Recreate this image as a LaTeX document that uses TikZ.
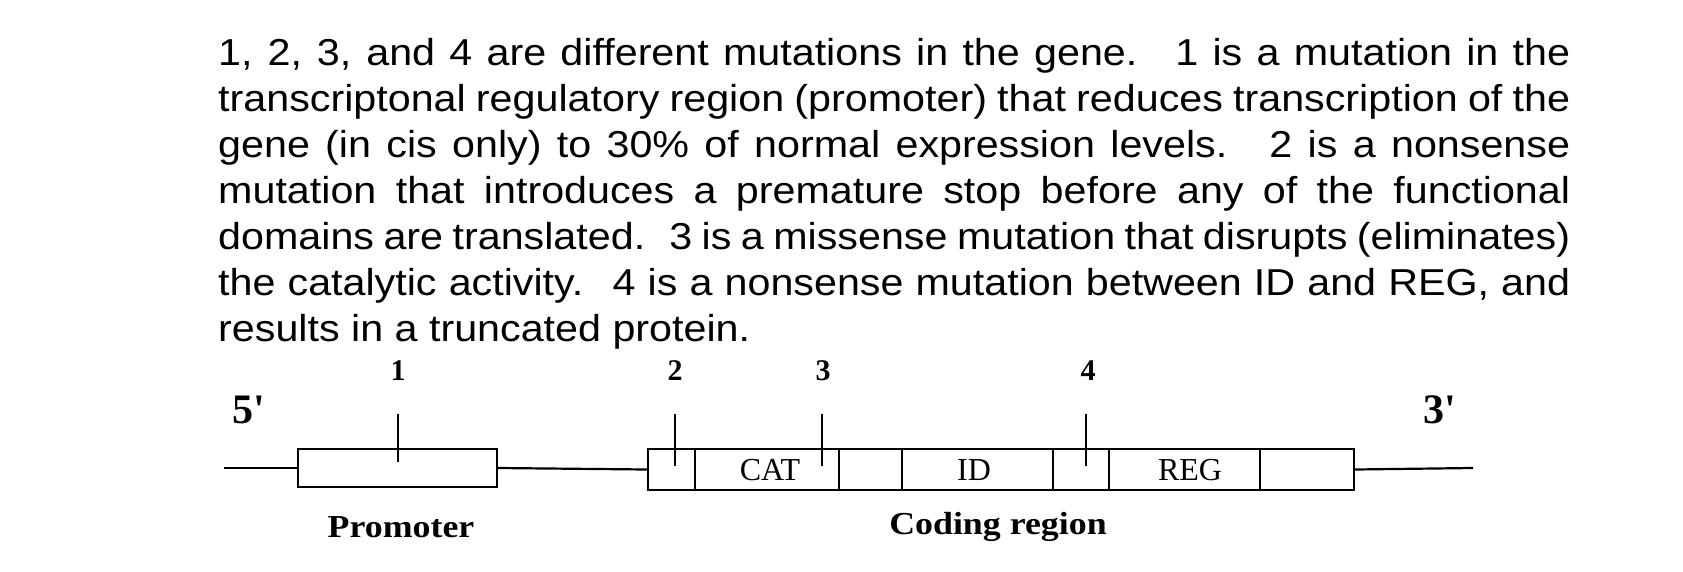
\documentclass[tikz,border=0pt]{standalone}
\usepackage{fontspec}
\setmainfont{Liberation Sans}[FakeStretch=1.1]
\newfontfamily\dfont{Liberation Serif}
\newfontfamily\wfont{Liberation Serif}[FakeStretch=1.12]
\begin{document}
\begin{tikzpicture}[x=1pt,y=-1pt,
  ln/.style={line width=2.2pt},
  bx/.style={draw,line width=1.8pt},
  tk/.style={line width=1.6pt},
  num/.style={font=\dfont\bfseries\fontsize{30}{30}\selectfont},
  dom/.style={font=\dfont\fontsize{32}{32}\selectfont},
  lab/.style={font=\wfont\bfseries\fontsize{32}{32}\selectfont}]
\useasboundingbox (0,0) rectangle (1683,571);
\node[anchor=north west,inner sep=0,text width=1352pt,align=justify,
  font=\fontsize{37.5}{46}\selectfont] (txt) at (218,38)
 {1, 2, 3, and 4 are different mutations in the gene.~ 1 is a mutation in the\linebreak
 transcriptonal regulatory region (promoter) that reduces transcription of the\linebreak
 gene (in cis only) to 30\% of normal expression levels.~ 2 is a nonsense\linebreak
 mutation that introduces a premature stop before any of the functional\linebreak
 domains are translated.~ 3 is a missense mutation that disrupts (eliminates)\linebreak
 the catalytic activity.~ 4 is a nonsense mutation between ID and REG, and\linebreak
 results in a truncated protein.\par};
\coordinate (L) at (224,468);
\coordinate (R) at (1473,468);
\node[bx,inner sep=0,minimum width=199pt,minimum height=38pt] (prom) at (397.5,468) {};
\node[bx,inner sep=0,minimum width=706pt,minimum height=41pt] (cod) at (1001,469.5) {};
\draw[ln] (L) -- (prom.west);
\draw[ln] (prom.east) -- (cod.west);
\draw[ln] (cod.east) -- (R);
\foreach \x in {695,839,902,1053,1109,1260}
  \draw[bx] (\x,449) -- (\x,490);
\node[dom] (cat) at (770,470) {CAT};
\node[dom] (id) at (974,470) {ID};
\node[dom] (reg) at (1190,470) {REG};
\foreach \n/\x/\yb in {m1/398/462,m2/675/466,m3/822/466,m4/1086/466}{
  \coordinate (\n t) at (\x,414);
  \coordinate (\n b) at (\x,\yb);
  \draw[tk] (\n t) -- (\n b);}
\node[num] (n1) at (398,371) {1};
\node[num] (n2) at (675,371) {2};
\node[num] (n3) at (823,371) {3};
\node[num] (n4) at (1088,371) {4};
\node[font=\dfont\bfseries\fontsize{42}{42}\selectfont] (five) at (249,410) {5'};
\node[font=\dfont\bfseries\fontsize{42}{42}\selectfont] (three) at (1440,410) {3'};
\node[lab] (pl) at (401,527) {Promoter};
\node[lab] (cl) at (998,527) {Coding region};
\end{tikzpicture}
\end{document}
